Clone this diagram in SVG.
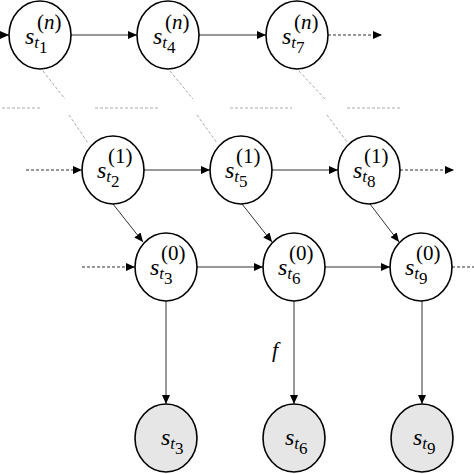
<svg xmlns="http://www.w3.org/2000/svg" width="474" height="474" viewBox="0 0 474 474">
<defs>
<marker id="a" markerUnits="userSpaceOnUse" markerWidth="10" markerHeight="8" refX="9" refY="4" orient="auto">
<path d="M0,0 L9,4 L0,8 Z" fill="#000"/>
</marker>
</defs>
<rect width="474" height="474" fill="#fff"/>
<g id="connectors" fill="none">
<g stroke="#333" stroke-width="1" marker-end="url(#a)">
<line x1="-5" y1="35" x2="9" y2="35"/>
<line x1="71" y1="35" x2="137" y2="35"/>
<line x1="199" y1="35" x2="266" y2="35"/>
<line x1="144" y1="170" x2="210" y2="170"/>
<line x1="272" y1="170" x2="338" y2="170"/>
<line x1="197" y1="267" x2="263" y2="267"/>
<line x1="325" y1="267" x2="390" y2="267"/>
<line x1="113" y1="204" x2="143" y2="242"/>
<line x1="242" y1="204" x2="272" y2="242"/>
<line x1="370" y1="204" x2="399" y2="242"/>
<line x1="166" y1="301" x2="166" y2="404"/>
<line x1="294" y1="301" x2="294" y2="404"/>
<line x1="422" y1="301" x2="422" y2="404"/>
</g>
<g stroke="#333" stroke-width="1.2" stroke-dasharray="3 2">
<line x1="328" y1="35" x2="382" y2="35" marker-end="url(#a)"/>
<line x1="26" y1="170" x2="82" y2="170" marker-end="url(#a)"/>
<line x1="400" y1="170" x2="454" y2="170" marker-end="url(#a)"/>
<line x1="82" y1="267" x2="135" y2="267" marker-end="url(#a)"/>
<line x1="452" y1="267" x2="474" y2="267"/>
</g>
<g stroke="#aaa" stroke-width="1" stroke-dasharray="3 2">
<line x1="2" y1="108" x2="40" y2="108"/>
<line x1="95" y1="108" x2="160" y2="108"/>
<line x1="230" y1="108" x2="292" y2="108"/>
<line x1="347" y1="108" x2="402" y2="108"/>
<line x1="43" y1="71" x2="65" y2="99"/>
<line x1="69" y1="115" x2="88" y2="143"/>
<line x1="170" y1="71" x2="193" y2="99"/>
<line x1="197" y1="115" x2="217" y2="143"/>
<line x1="299" y1="71" x2="325" y2="99"/>
<line x1="327" y1="115" x2="347" y2="142"/>
</g>
<text x="272" y="357" font-family="Liberation Serif" font-style="italic" font-size="22" fill="#000">f</text>
</g>
<g id="nodes" font-family="Liberation Serif" fill="#000">
<g id="t1"><ellipse cx="40" cy="35" rx="31" ry="34" fill="#fff" stroke="#000" stroke-width="1.6"/>
<text x="25" y="44" font-size="24"><tspan font-style="italic">s</tspan><tspan font-style="italic" font-size="17" dy="4">t</tspan><tspan font-size="17" dy="5">1</tspan></text>
<text x="37" y="29" font-size="21">(<tspan font-style="italic">n</tspan>)</text></g>
<g id="t4"><ellipse cx="168" cy="35" rx="31" ry="34" fill="#fff" stroke="#000" stroke-width="1.6"/>
<text x="153" y="44" font-size="24"><tspan font-style="italic">s</tspan><tspan font-style="italic" font-size="17" dy="4">t</tspan><tspan font-size="17" dy="5">4</tspan></text>
<text x="165" y="29" font-size="21">(<tspan font-style="italic">n</tspan>)</text></g>
<g id="t7"><ellipse cx="297" cy="35" rx="31" ry="34" fill="#fff" stroke="#000" stroke-width="1.6"/>
<text x="282" y="44" font-size="24"><tspan font-style="italic">s</tspan><tspan font-style="italic" font-size="17" dy="4">t</tspan><tspan font-size="17" dy="5">7</tspan></text>
<text x="294" y="29" font-size="21">(<tspan font-style="italic">n</tspan>)</text></g>
<g id="t2"><ellipse cx="113" cy="170" rx="31" ry="34" fill="#fff" stroke="#000" stroke-width="1.6"/>
<text x="97" y="178" font-size="24"><tspan font-style="italic">s</tspan><tspan font-style="italic" font-size="17" dy="4">t</tspan><tspan font-size="17" dy="5">2</tspan></text>
<text x="108" y="163" font-size="21">(1)</text></g>
<g id="t5"><ellipse cx="241" cy="170" rx="31" ry="34" fill="#fff" stroke="#000" stroke-width="1.6"/>
<text x="225" y="178" font-size="24"><tspan font-style="italic">s</tspan><tspan font-style="italic" font-size="17" dy="4">t</tspan><tspan font-size="17" dy="5">5</tspan></text>
<text x="236" y="163" font-size="21">(1)</text></g>
<g id="t8"><ellipse cx="369" cy="170" rx="31" ry="34" fill="#fff" stroke="#000" stroke-width="1.6"/>
<text x="353" y="178" font-size="24"><tspan font-style="italic">s</tspan><tspan font-style="italic" font-size="17" dy="4">t</tspan><tspan font-size="17" dy="5">8</tspan></text>
<text x="364" y="163" font-size="21">(1)</text></g>
<g id="t3"><ellipse cx="166" cy="267" rx="31" ry="34" fill="#fff" stroke="#000" stroke-width="1.6"/>
<text x="150" y="275" font-size="24"><tspan font-style="italic">s</tspan><tspan font-style="italic" font-size="17" dy="4">t</tspan><tspan font-size="17" dy="5">3</tspan></text>
<text x="161" y="260" font-size="21">(0)</text></g>
<g id="t6"><ellipse cx="294" cy="267" rx="31" ry="34" fill="#fff" stroke="#000" stroke-width="1.6"/>
<text x="278" y="275" font-size="24"><tspan font-style="italic">s</tspan><tspan font-style="italic" font-size="17" dy="4">t</tspan><tspan font-size="17" dy="5">6</tspan></text>
<text x="289" y="260" font-size="21">(0)</text></g>
<g id="t9"><ellipse cx="421" cy="267" rx="31" ry="34" fill="#fff" stroke="#000" stroke-width="1.6"/>
<text x="405" y="275" font-size="24"><tspan font-style="italic">s</tspan><tspan font-style="italic" font-size="17" dy="4">t</tspan><tspan font-size="17" dy="5">9</tspan></text>
<text x="416" y="260" font-size="21">(0)</text></g>
<g id="o3"><ellipse cx="166" cy="438" rx="31" ry="34" fill="#e6e6e6" stroke="#000" stroke-width="1.6"/>
<text x="161" y="445" font-size="24"><tspan font-style="italic">s</tspan><tspan font-style="italic" font-size="17" dy="4">t</tspan><tspan font-size="17" dy="5">3</tspan></text></g>
<g id="o6"><ellipse cx="294" cy="438" rx="31" ry="34" fill="#e6e6e6" stroke="#000" stroke-width="1.6"/>
<text x="285" y="445" font-size="24"><tspan font-style="italic">s</tspan><tspan font-style="italic" font-size="17" dy="4">t</tspan><tspan font-size="17" dy="5">6</tspan></text></g>
<g id="o9"><ellipse cx="422" cy="438" rx="31" ry="34" fill="#e6e6e6" stroke="#000" stroke-width="1.6"/>
<text x="413" y="445" font-size="24"><tspan font-style="italic">s</tspan><tspan font-style="italic" font-size="17" dy="4">t</tspan><tspan font-size="17" dy="5">9</tspan></text></g>
</g>
</svg>
